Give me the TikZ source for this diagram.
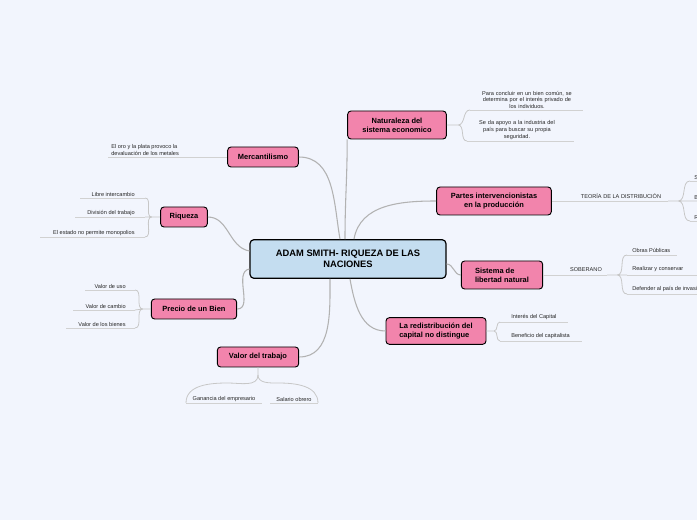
\documentclass[tikz,border=0pt]{standalone}
\usepackage{fontspec}
\setmainfont{Liberation Sans}
\begin{document}
\begin{tikzpicture}[x=0.75pt,y=-0.75pt,
  main/.style={draw=black,line width=0.9pt,rounded corners=3pt,fill=cblue,align=center,font=\bfseries\fontsize{7}{8}\selectfont,minimum width=147pt,minimum height=29pt},
  topic/.style={draw=black,line width=0.7pt,rounded corners=2.5pt,fill=cpink,align=center,font=\bfseries\fontsize{5.6}{6.6}\selectfont,inner sep=0pt},
  leaf/.style={font=\fontsize{4.2}{5.1}\selectfont,text=black!85,inner sep=1pt,outer sep=0pt},
  ul/.style={draw=black!18,line width=0.6pt},
  conn/.style={draw=black!30,line width=0.8pt},
  br/.style={draw=black!22,line width=0.6pt}]
\definecolor{cblue}{HTML}{C4DDF0}
\definecolor{cpink}{HTML}{F284AC}
\definecolor{bg}{HTML}{F2F5FD}
\fill[bg] (0,0) rectangle (697,520);
\useasboundingbox (0,0) rectangle (697,520);
\clip (0,0) rectangle (697,520);

% main topics
\node[main] (c) at (348,259) {ADAM SMITH- RIQUEZA DE LAS\\NACIONES};
\node[topic,minimum width=74pt,minimum height=21pt] (nat) at (397,125) {Naturaleza del\\sistema economico};
\node[topic,minimum width=53pt,minimum height=15pt] (mer) at (263,157) {Mercantilismo};
\node[topic,minimum width=35pt,minimum height=15pt] (riq) at (184,217) {Riqueza};
\node[topic,minimum width=86pt,minimum height=21pt] (par) at (494,201) {Partes intervencionistas\\en la producción};
\node[topic,minimum width=61pt,minimum height=21pt,align=left] (sis) at (502,275) {Sistema de\\libertad natural};
\node[topic,minimum width=64pt,minimum height=15pt] (pre) at (194,309) {Precio de un Bien};
\node[topic,minimum width=75pt,minimum height=20pt,align=left] (red) at (436,331) {La redistribución del\\capital no distingue};
\node[topic,minimum width=61pt,minimum height=15pt] (val) at (258,357) {Valor del trabajo};

% main connectors
\draw[conn] (c.north) ++(-3,0) coordinate (c1) (c1) to[out=90,in=-90] (nat.south west);
\draw[conn] (c.north) ++(-8,0) coordinate (c2) (c2) to[out=100,in=0] (mer.east);
\draw[conn] (c.west) ++(0,-8) coordinate (c3) (c3) to[out=170,in=0] (riq.east);
\draw[conn] (c.west) ++(0,10) coordinate (c4) (c4) to[out=190,in=0] (pre.east);
\draw[conn] (c.south) ++(-18,0) coordinate (c5) (c5) to[out=-90,in=0] (val.east);
\draw[conn] (c.north) ++(6,0) coordinate (c6) (c6) to[out=80,in=180] (par.west);
\draw[conn] (c.east) ++(0,5) coordinate (c7) (c7) to[out=0,in=180] (sis.west);
\draw[conn] (c.south) ++(2,0) coordinate (c8) (c8) to[out=-80,in=180] (red.west);

% Naturaleza leaves
\node[leaf,anchor=south,align=center,text width=140] (n1) at (527,110) {Para concluir en un bien común, se\\determina por el interés privado de\\los individuos.};
\node[leaf,anchor=south,align=center,text width=100] (n2) at (517,141) {Se da apoyo a la industria del\\país para buscar su propia\\seguridad.};
\coordinate (n1a) at (470,110); \coordinate (n1b) at (583,110);
\coordinate (n2a) at (467,141); \coordinate (n2b) at (574,141);
\draw[ul] (n1a) -- (n1b); \draw[ul] (n2a) -- (n2b);
\coordinate (nb) at (458,125);
\draw[br] (nat.east) -- (nb) to[out=0,in=180] (n1a) (nb) to[out=0,in=180] (n2a);

% Mercantilismo leaf
\node[leaf,anchor=south west,align=left] (m1) at (110,157) {El oro y la plata provoco la\\devaluación de los metales};
\coordinate (m1a) at (108,157);
\draw[ul] (m1a) -- (mer.west);

% Riqueza leaves
\node[leaf,anchor=south east] (r1) at (136,198) {Libre intercambio};
\node[leaf,anchor=south east] (r2) at (136,217) {División del trabajo};
\node[leaf,anchor=south east] (r3) at (136,237) {El estado no permite monopolios};
\coordinate (r1a) at (80,198); \coordinate (r1b) at (145,198);
\coordinate (r2a) at (75,217); \coordinate (r2b) at (145,217);
\coordinate (r3a) at (40,237); \coordinate (r3b) at (145,237);
\draw[ul] (r1a) -- (r1b); \draw[ul] (r2a) -- (r2b); \draw[ul] (r3a) -- (r3b);
\coordinate (rb) at (152,217);
\draw[br] (riq.west) -- (rb) to[out=180,in=0] (r1b) (rb) -- (r2b) (rb) to[out=180,in=0] (r3b);

% Precio leaves
\node[leaf,anchor=south east] (p1) at (127,290) {Valor de uso};
\node[leaf,anchor=south east] (p2) at (127,310) {Valor de cambio};
\node[leaf,anchor=south east] (p3) at (127,328) {Valor de los bienes};
\coordinate (p1a) at (85,290); \coordinate (p1b) at (135,290);
\coordinate (p2a) at (73,310); \coordinate (p2b) at (135,310);
\coordinate (p3a) at (66,328); \coordinate (p3b) at (135,328);
\draw[ul] (p1a) -- (p1b); \draw[ul] (p2a) -- (p2b); \draw[ul] (p3a) -- (p3b);
\coordinate (pb) at (143,309);
\draw[br] (pre.west) -- (pb) to[out=180,in=0] (p1b) (pb) -- (p2b) (pb) to[out=180,in=0] (p3b);

% Valor del trabajo leaves
\node[leaf,anchor=south] (v1) at (224,403) {Ganancia del empresario};
\node[leaf,anchor=south] (v2) at (294,403) {Salario obrero};
\coordinate (v1a) at (186,403); \coordinate (v1b) at (262,403);
\coordinate (v2a) at (270,403); \coordinate (v2b) at (318,403);
\draw[ul] (v1a) -- (v1b); \draw[ul] (v2a) -- (v2b);
\coordinate (vb) at (258,375);
\draw[br] (val.south) -- (vb) to[out=-90,in=0] (228,383) to[out=180,in=90] (v1a);
\draw[br] (vb) to[out=-90,in=180] (278,383) to[out=0,in=90] (v2b);

% Partes leaves
\node[leaf,anchor=south] (t) at (621,200) {TEORÍA DE LA DISTRIBUCIÓN};
\coordinate (ta) at (668,201);
\draw[ul] (par.east) -- (ta);
\node[leaf,anchor=south west] (s1) at (693,181) {S};
\node[leaf,anchor=south west] (s2) at (693,201) {B};
\node[leaf,anchor=south west] (s3) at (693,221) {R};
\coordinate (s1a) at (690,181); \coordinate (s2a) at (690,201); \coordinate (s3a) at (690,221);
\draw[ul] (s1a) -- (697,181); \draw[ul] (s3a) -- (697,221);
\coordinate (tb) at (678,201);
\draw[br] (ta) -- (tb) to[out=0,in=180] (s1a) (tb) -- (s2a) -- (697,201) (tb) to[out=0,in=180] (s3a);

% Sistema leaves
\node[leaf,anchor=south] (so) at (586,273) {SOBERANO};
\coordinate (soa) at (607,275);
\draw[ul] (sis.east) -- (soa);
\node[leaf,anchor=south west] (o1) at (631,254) {Obras Públicas};
\node[leaf,anchor=south west] (o2) at (631,273) {Realizar y conservar};
\node[leaf,anchor=south west] (o3) at (631,293) {Defender al país de invasiones};
\coordinate (o1a) at (627,255); \coordinate (o1b) at (677,255);
\coordinate (o2a) at (627,275); \coordinate (o2b) at (697,275);
\coordinate (o3a) at (627,294); \coordinate (o3b) at (697,294);
\draw[ul] (o1a) -- (o1b); \draw[ul] (o2a) -- (o2b); \draw[ul] (o3a) -- (o3b);
\coordinate (ob) at (617,275);
\draw[br] (soa) -- (ob) to[out=0,in=180] (o1a) (ob) -- (o2a) (ob) to[out=0,in=180] (o3a);

% Redistribucion leaves
\node[leaf,anchor=south west] (d1) at (510,321) {Interés del Capital};
\node[leaf,anchor=south west] (d2) at (510,340) {Beneficio del capitalista};
\coordinate (d1a) at (500,322); \coordinate (d1b) at (568,322);
\coordinate (d2a) at (500,341); \coordinate (d2b) at (582,341);
\draw[ul] (d1a) -- (d1b); \draw[ul] (d2a) -- (d2b);
\coordinate (db) at (494,331);
\draw[br] (red.east) -- (db) to[out=0,in=180] (d1a) (db) to[out=0,in=180] (d2a);
\end{tikzpicture}
\end{document}
